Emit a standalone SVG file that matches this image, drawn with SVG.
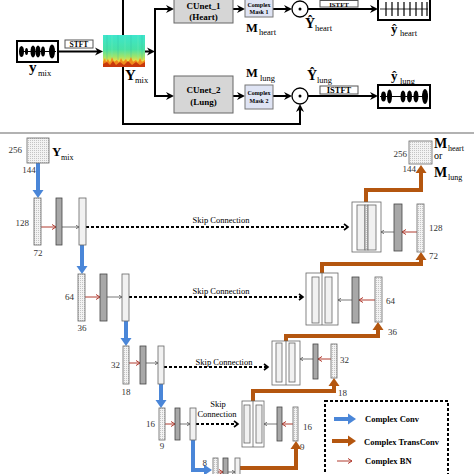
<svg xmlns="http://www.w3.org/2000/svg" width="474" height="474" viewBox="0 0 474 474">
<style>
.t{font-family:"Liberation Serif","Times New Roman",serif;fill:#000}
.b{font-weight:bold}
.num{font-family:"Liberation Serif","Times New Roman",serif;font-size:9px;fill:#333}
.ln{stroke:#000;stroke-width:2;fill:none}
.lnA{stroke:#000;stroke-width:2;fill:none;marker-end:url(#ah)}
.dot{fill:url(#dots);stroke:#666;stroke-width:0.8}
.lt{fill:#f1f1f1;stroke:#666;stroke-width:0.8}
.dk{fill:#a8a8a8;stroke:#444;stroke-width:0.8}
.cat{fill:#fff;stroke:#666;stroke-width:0.8}
.blue{stroke:#4a86d8;stroke-width:4;fill:none;marker-end:url(#mb)}
.brown{stroke:#b4560f;stroke-width:4;fill:none;marker-end:url(#mr)}
.red{stroke:#b03a2e;stroke-width:1;fill:none;marker-end:url(#mred)}
.gry{stroke:#555;stroke-width:0.8;fill:none;marker-end:url(#mg)}
.skip{stroke:#000;stroke-width:2;stroke-dasharray:3 2;fill:none;marker-end:url(#md)}
.wbox{fill:#fff;stroke:#000;stroke-width:2}
.unet{fill:#d6d6d6;stroke:#666;stroke-width:1}
.mask{fill:#dfe4f4;stroke:#777;stroke-width:1}
</style>
<defs>
<pattern id="dots" width="2" height="2" patternUnits="userSpaceOnUse"><rect width="2" height="2" fill="#f3f3f3"/><rect width="1" height="1" fill="#c4c4c4"/></pattern>
<linearGradient id="spec" x1="0" y1="0" x2="0" y2="1">
<stop offset="0" stop-color="#3de6cc"/><stop offset="0.45" stop-color="#48e2a6"/><stop offset="0.68" stop-color="#a2e46a"/><stop offset="0.8" stop-color="#e9df45"/><stop offset="0.9" stop-color="#f39a1f"/><stop offset="1" stop-color="#c8400c"/>
</linearGradient>
<marker id="ah" markerUnits="userSpaceOnUse" markerWidth="10" markerHeight="10" viewBox="0 0 10 10" refX="4" refY="5" orient="auto"><path d="M0,1 L8,5 L0,9 L2.5,5 z" fill="#000"/></marker>
<marker id="mb" markerUnits="userSpaceOnUse" markerWidth="12" markerHeight="12" viewBox="0 0 12 12" refX="4" refY="6" orient="auto"><path d="M0,0.5 L8,6 L0,11.5 z" fill="#4a86d8"/></marker>
<marker id="mr" markerUnits="userSpaceOnUse" markerWidth="12" markerHeight="12" viewBox="0 0 12 12" refX="4" refY="6" orient="auto"><path d="M0,0.5 L8,6 L0,11.5 z" fill="#b4560f"/></marker>
<marker id="mred" markerUnits="userSpaceOnUse" markerWidth="6" markerHeight="6" viewBox="0 0 6 6" refX="5" refY="3" orient="auto"><path d="M1,0.5 L5,3 L1,5.5" fill="none" stroke="#b03a2e" stroke-width="1"/></marker>
<marker id="mg" markerUnits="userSpaceOnUse" markerWidth="5" markerHeight="5" viewBox="0 0 5 5" refX="4" refY="2.5" orient="auto"><path d="M1,0.8 L4,2.5 L1,4.2" fill="none" stroke="#555" stroke-width="0.8"/></marker>
<marker id="md" markerUnits="userSpaceOnUse" markerWidth="8" markerHeight="8" viewBox="0 0 8 8" refX="6" refY="4" orient="auto"><path d="M2,1 L6,4 L2,7" fill="none" stroke="#000" stroke-width="1.6"/></marker>
</defs>
<rect width="474" height="474" fill="#fff"/>

<!-- ===== top section connectors ===== -->
<g id="connectors-top">
<path class="lnA" d="M123,0 V124 H300 V108"/>
<line class="lnA" x1="58" y1="51.5" x2="99" y2="51.5"/>
<line class="lnA" x1="145" y1="51.5" x2="151" y2="51.5"/>
<path class="ln" d="M155,8 V97"/>
<line class="lnA" x1="154" y1="9" x2="170" y2="9"/>
<line class="lnA" x1="154" y1="96" x2="170" y2="96"/>
<line class="lnA" x1="233" y1="9" x2="241" y2="9"/>
<line class="lnA" x1="233" y1="96" x2="241" y2="96"/>
<line class="lnA" x1="273" y1="9" x2="288" y2="9"/>
<line class="lnA" x1="273" y1="96" x2="288" y2="96"/>
<line class="lnA" x1="308" y1="9" x2="374" y2="9"/>
<line class="lnA" x1="308" y1="96" x2="374" y2="96"/>
</g>

<g id="ymix-wave">
<rect class="wbox" x="17" y="41" width="41" height="21"/>
<line x1="19" y1="51.5" x2="56" y2="51.5" stroke="#000" stroke-width="1"/>
<g fill="#000">
<ellipse cx="21.5" cy="51.5" rx="2.5" ry="5.5"/><ellipse cx="26.5" cy="51.5" rx="1.5" ry="3.5"/>
<ellipse cx="33" cy="51.5" rx="2.5" ry="6"/><ellipse cx="38" cy="51.5" rx="2.5" ry="6"/>
<ellipse cx="43" cy="51.5" rx="2" ry="5"/><ellipse cx="52" cy="51.5" rx="3" ry="7"/>
</g>
<text class="t b" x="29" y="72" font-size="15">y</text>
<text class="t" x="38" y="76" font-size="8.5">mix</text>
</g>

<g id="stft">
<rect x="65" y="40" width="28" height="8" fill="#fff" stroke="#555" stroke-width="1"/>
<text class="t b" x="79" y="46.8" font-size="7.5" text-anchor="middle">STFT</text>
</g>

<g id="spectrogram">
<rect x="103" y="35" width="42" height="32" fill="url(#spec)"/>
<g stroke-width="1" opacity="0.35">
<line x1="107" y1="35" x2="107" y2="60" stroke="#2fb9a8"/><line x1="112" y1="35" x2="112" y2="60" stroke="#7af0c0"/>
<line x1="118" y1="35" x2="118" y2="60" stroke="#2fb9a8"/><line x1="125" y1="35" x2="125" y2="60" stroke="#7af0c0"/>
<line x1="131" y1="35" x2="131" y2="60" stroke="#2fb9a8"/><line x1="138" y1="35" x2="138" y2="60" stroke="#7af0c0"/>
<line x1="142" y1="35" x2="142" y2="60" stroke="#2fb9a8"/>
</g>
<path d="M103,67 V62 L105,58 L106,62 L108,59 L110,63 L112,57 L114,62 L117,60 L119,63 L121,58 L123,62 L126,59 L128,63 L131,57 L133,62 L136,60 L138,63 L140,58 L142,62 L145,60 V67 z" fill="#f08a1c"/>
<path d="M103,67 V64 L107,62 L110,65 L113,61 L116,65 L120,62 L124,65 L128,61 L132,65 L136,62 L140,65 L145,62 V67 z" fill="#c8380c"/>
<text class="t b" x="125" y="80" font-size="15">Y</text>
<text class="t" x="135" y="83" font-size="8.5">mix</text>
</g>

<g id="cunet1">
<rect class="unet" x="174" y="-14" width="59" height="37"/>
<text class="t b" x="203.5" y="9" font-size="9" text-anchor="middle">CUnet_1</text>
<text class="t b" x="203.5" y="19.5" font-size="9" text-anchor="middle">(Heart)</text>
</g>
<g id="cunet2">
<rect class="unet" x="174" y="76" width="59" height="37"/>
<text class="t b" x="203.5" y="92.5" font-size="9" text-anchor="middle">CUnet_2</text>
<text class="t b" x="203.5" y="104.5" font-size="9" text-anchor="middle">(Lung)</text>
</g>

<g id="mask1">
<rect class="mask" x="245" y="-7" width="28" height="24"/>
<text class="t b" x="259" y="6.5" font-size="6" text-anchor="middle">Complex</text>
<text class="t b" x="259" y="13.5" font-size="6" text-anchor="middle">Mask 1</text>
<text class="t b" x="246" y="32" font-size="12.5">M</text>
<text class="t" x="259" y="35" font-size="8.5">heart</text>
</g>
<g id="mask2">
<rect class="mask" x="245" y="85" width="28" height="24"/>
<text class="t b" x="259" y="95" font-size="6" text-anchor="middle">Complex</text>
<text class="t b" x="259" y="103" font-size="6" text-anchor="middle">Mask 2</text>
<text class="t b" x="246" y="77" font-size="12.5">M</text>
<text class="t" x="260" y="81" font-size="8.5">lung</text>
</g>

<g id="mult-heart">
<circle cx="300" cy="9" r="8" fill="#fff" stroke="#000" stroke-width="1.3"/>
<circle cx="300" cy="9" r="1.5" fill="#000"/>
<text class="t b" x="305" y="28" font-size="14">Ŷ</text>
<text class="t" x="315" y="31" font-size="8.5">heart</text>
</g>
<g id="mult-lung">
<circle cx="300" cy="96" r="8" fill="#fff" stroke="#000" stroke-width="1.3"/>
<circle cx="300" cy="96" r="1.5" fill="#000"/>
<text class="t b" x="307" y="80" font-size="14">Ŷ</text>
<text class="t" x="317" y="83" font-size="8.5">lung</text>
</g>

<g id="istft-heart">
<rect x="320" y="0.5" width="38" height="6.5" fill="#fff" stroke="#555" stroke-width="1"/>
<text class="t b" x="339" y="6.6" font-size="6.8" text-anchor="middle">ISTFT</text>
</g>
<g id="istft-lung">
<rect x="320" y="86" width="38" height="8" fill="#fff" stroke="#555" stroke-width="1"/>
<text class="t b" x="339" y="92.5" font-size="8.5" text-anchor="middle">ISTFT</text>
</g>

<g id="yhat-heart">
<rect class="wbox" x="378" y="-2" width="52" height="22"/>
<line x1="380" y1="9" x2="428" y2="9" stroke="#000" stroke-width="0.8"/>
<g stroke="#000" stroke-width="1.2">
<line x1="386" y1="2" x2="386" y2="16"/><line x1="392" y1="2" x2="392" y2="16"/><line x1="398" y1="2" x2="398" y2="16"/>
<line x1="404" y1="2" x2="404" y2="16"/><line x1="410" y1="2" x2="410" y2="16"/><line x1="416" y1="2" x2="416" y2="16"/>
<line x1="422" y1="2" x2="422" y2="16"/><line x1="427" y1="2" x2="427" y2="16"/>
</g>
<text class="t b" x="391" y="33" font-size="13">ŷ</text>
<text class="t" x="400" y="36" font-size="8.5">heart</text>
</g>
<g id="yhat-lung">
<rect class="wbox" x="378" y="85" width="52" height="23"/>
<line x1="380" y1="96.5" x2="428" y2="96.5" stroke="#000" stroke-width="1"/>
<g fill="#000">
<ellipse cx="383.5" cy="96.5" rx="2.5" ry="5"/><ellipse cx="389.5" cy="96.5" rx="2.5" ry="7"/>
<ellipse cx="403" cy="96.5" rx="2.5" ry="6"/><ellipse cx="409.5" cy="96.5" rx="2.5" ry="6"/>
<ellipse cx="416" cy="96.5" rx="2.5" ry="6"/><ellipse cx="425" cy="96.5" rx="3" ry="7.5"/>
</g>
<text class="t b" x="391" y="80" font-size="13">ŷ</text>
<text class="t" x="400" y="84" font-size="8.5">lung</text>
</g>

<line id="separator" x1="0" y1="133" x2="474" y2="133" stroke="#999" stroke-width="1.5"/>

<!-- ===== U-Net connectors ===== -->
<g id="connectors">
<path class="blue" d="M38,163 V194"/>
<path class="blue" d="M82,245 V270"/>
<path class="blue" d="M126,321 V342"/>
<path class="blue" d="M161,384 V404"/>
<path class="blue" d="M193,440 V470 H208"/>
<path class="brown" d="M240,468 H296 V445"/>
<path class="brown" d="M253,401 V391 H334 V382"/>
<path class="brown" d="M286,341 V336 H378 V326"/>
<path class="brown" d="M322,273 V264 H421 V256"/>
<path class="brown" d="M366,202 V190 H421 V169"/>
<path class="skip" d="M86,227 H348"/>
<path class="skip" d="M129,297 H303"/>
<path class="skip" d="M164,367 H268"/>
<path class="skip" d="M196,424 H238"/>
<line class="red" x1="41" y1="227" x2="56" y2="227"/><line class="gry" x1="62" y1="227" x2="79" y2="227"/>
<line class="red" x1="85" y1="297" x2="100" y2="297"/><line class="gry" x1="107" y1="297" x2="122" y2="297"/>
<line class="red" x1="129" y1="363" x2="140" y2="363"/><line class="gry" x1="146" y1="363" x2="158" y2="363"/>
<line class="red" x1="165" y1="424" x2="175" y2="424"/><line class="gry" x1="180" y1="424" x2="190" y2="424"/>
<line class="red" x1="218" y1="472" x2="223" y2="472"/><line class="gry" x1="228" y1="472" x2="235" y2="472"/>
<line class="red" x1="417" y1="232" x2="402" y2="232"/><line class="gry" x1="394" y1="232" x2="381" y2="232"/>
<line class="red" x1="375" y1="300" x2="359" y2="300"/><line class="gry" x1="352" y1="300" x2="338" y2="300"/>
<line class="red" x1="331" y1="359" x2="318" y2="359"/><line class="gry" x1="313" y1="359" x2="300" y2="359"/>
<line class="red" x1="293" y1="424" x2="282" y2="424"/><line class="gry" x1="277" y1="424" x2="264" y2="424"/>
<text class="t" x="221" y="223" font-size="8.5" text-anchor="middle">Skip Connection</text>
<text class="t" x="221" y="294" font-size="8.5" text-anchor="middle">Skip Connection</text>
<text class="t" x="224" y="365" font-size="8.5" text-anchor="middle">Skip Connection</text>
<text class="t" x="218" y="407" font-size="8.5" text-anchor="middle">Skip</text>
<text class="t" x="217" y="417" font-size="8.5" text-anchor="middle">Connection</text>
</g>

<g id="input">
<rect class="dot" x="27" y="138" width="22" height="25"/>
<text class="num" x="22" y="153" text-anchor="end">256</text>
<text class="num" x="29" y="173" text-anchor="middle">144</text>
<text class="t b" x="52" y="156" font-size="13">Y</text>
<text class="t" x="61" y="160" font-size="8">mix</text>
</g>

<g id="enc1">
<rect class="dot" x="34" y="198" width="7" height="47"/>
<rect class="dk" x="56" y="198" width="6" height="47"/>
<rect class="lt" x="79" y="198" width="7" height="47"/>
<text class="num" x="29" y="226" text-anchor="end">128</text>
<text class="num" x="38" y="256" text-anchor="middle">72</text>
</g>
<g id="enc2">
<rect class="dot" x="78" y="274" width="7" height="47"/>
<rect class="dk" x="100" y="274" width="7" height="47"/>
<rect class="lt" x="122" y="274" width="7" height="47"/>
<text class="num" x="74" y="300" text-anchor="end">64</text>
<text class="num" x="82" y="331" text-anchor="middle">36</text>
</g>
<g id="enc3">
<rect class="dot" x="123" y="346" width="6" height="38"/>
<rect class="dk" x="140" y="346" width="6" height="38"/>
<rect class="lt" x="158" y="346" width="6" height="38"/>
<text class="num" x="120" y="368" text-anchor="end">32</text>
<text class="num" x="126" y="395" text-anchor="middle">18</text>
</g>
<g id="enc4">
<rect class="dot" x="159" y="408" width="6" height="32"/>
<rect class="dk" x="175" y="408" width="5" height="32"/>
<rect class="lt" x="190" y="408" width="6" height="32"/>
<text class="num" x="155" y="427" text-anchor="end">16</text>
<text class="num" x="162" y="449" text-anchor="middle">9</text>
</g>
<g id="enc5">
<rect class="dot" x="213" y="458" width="5" height="25"/>
<rect class="dk" x="223" y="458" width="5" height="25"/>
<rect class="lt" x="235" y="458" width="5" height="25"/>
<text class="num" x="207" y="466" text-anchor="end">8</text>
</g>

<g id="dec1">
<rect class="cat" x="352" y="202" width="29" height="50"/>
<rect class="lt" x="357" y="205" width="8" height="45"/>
<rect class="dot" x="365" y="205" width="3" height="45"/>
<rect class="lt" x="368" y="205" width="8" height="45"/>
<rect class="dk" x="394" y="204" width="8" height="47"/>
<rect class="dot" x="417" y="204" width="7" height="48"/>
<text class="num" x="429" y="231">128</text>
<text class="num" x="429" y="259">72</text>
</g>
<g id="dec2">
<rect class="cat" x="306" y="273" width="32" height="52"/>
<line x1="322" y1="273" x2="322" y2="325" stroke="#666" stroke-width="0.8"/>
<rect class="lt" x="312" y="277" width="7" height="46"/>
<rect class="lt" x="325" y="277" width="7" height="46"/>
<rect class="dk" x="352" y="277" width="7" height="46"/>
<rect class="dot" x="375" y="277" width="7" height="45"/>
<text class="num" x="386" y="304">64</text>
<text class="num" x="388" y="335">36</text>
</g>
<g id="dec3">
<rect class="cat" x="272" y="341" width="28" height="44"/>
<line x1="286" y1="341" x2="286" y2="385" stroke="#666" stroke-width="0.8"/>
<rect class="lt" x="276" y="343" width="6" height="39"/>
<rect class="lt" x="289" y="343" width="6" height="39"/>
<rect class="dk" x="313" y="344" width="5" height="35"/>
<rect class="dot" x="331" y="344" width="6" height="34"/>
<text class="num" x="340" y="363">32</text>
<text class="num" x="338" y="396">18</text>
</g>
<g id="dec4">
<rect class="cat" x="242" y="401" width="22" height="46"/>
<line x1="253" y1="401" x2="253" y2="447" stroke="#666" stroke-width="0.8"/>
<rect class="lt" x="244" y="405" width="6" height="38"/>
<rect class="lt" x="256" y="405" width="6" height="38"/>
<rect class="dk" x="277" y="407" width="5" height="34"/>
<rect class="dot" x="293" y="407" width="5" height="34"/>
<text class="num" x="303" y="430">16</text>
<text class="num" x="300" y="450">9</text>
</g>

<g id="output">
<rect class="dot" x="409" y="141" width="23" height="23"/>
<text class="num" x="407" y="157" text-anchor="end">256</text>
<text class="num" x="416" y="172" text-anchor="end">144</text>
<text class="t b" x="434" y="148" font-size="14">M</text>
<text class="t" x="448" y="151" font-size="8">heart</text>
<text class="t" x="434" y="159" font-size="10">or</text>
<text class="t b" x="434" y="177" font-size="14">M</text>
<text class="t" x="448" y="180" font-size="8">lung</text>
</g>

<g id="legend">
<rect x="325" y="401" width="123" height="85" fill="none" stroke="#000" stroke-width="2" stroke-dasharray="3 2"/>
<line class="blue" x1="334" y1="419" x2="352" y2="419"/>
<text class="t b" x="365" y="422" font-size="8.5">Complex Conv</text>
<line class="brown" x1="332" y1="441" x2="352" y2="441"/>
<text class="t b" x="364" y="445" font-size="8.5">Complex TransConv</text>
<line class="red" x1="337" y1="461" x2="352" y2="461"/>
<text class="t b" x="365" y="464" font-size="8.5">Complex BN</text>
</g>
</svg>
